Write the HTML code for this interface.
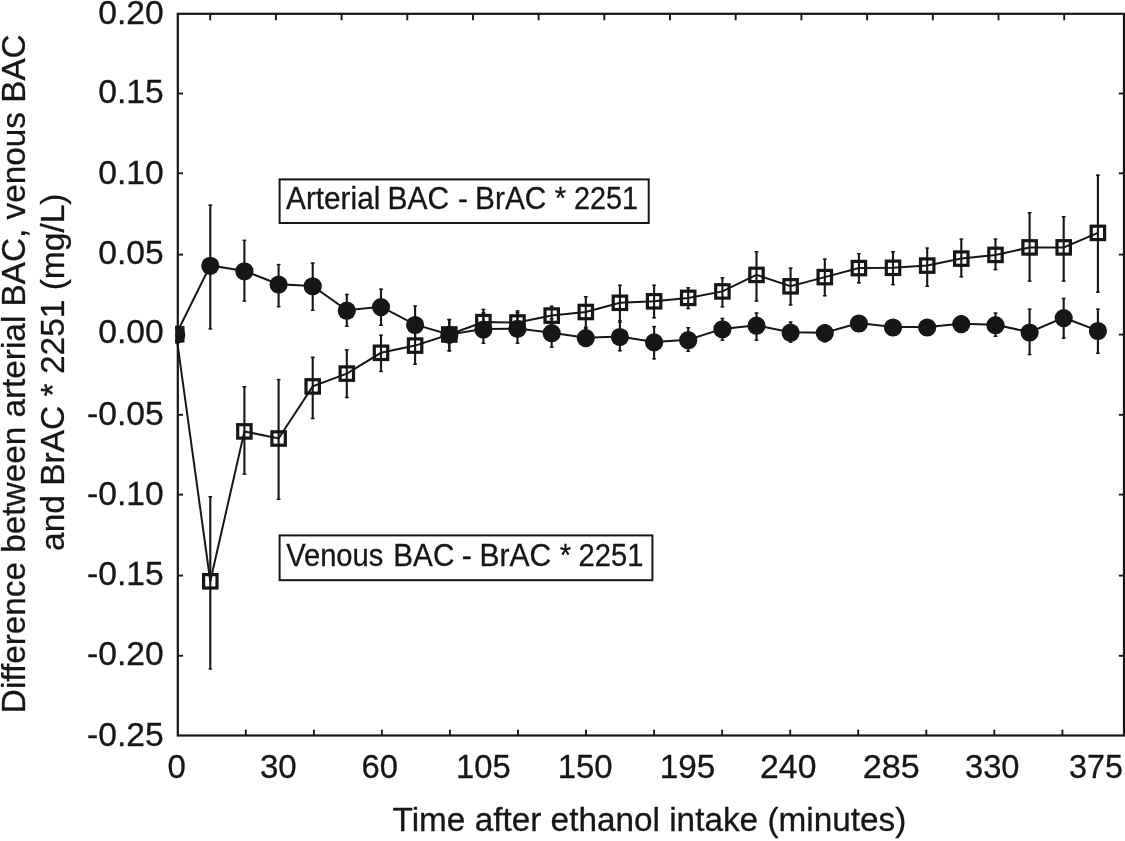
<!DOCTYPE html>
<html lang="en"><head><meta charset="utf-8"><title>BAC - BrAC difference chart</title>
<style>
html,body{margin:0;padding:0;background:#fff;}
body{width:1125px;height:841px;overflow:hidden;}
svg{display:block;}
text{font-family:"Liberation Sans",Arial,Helvetica,sans-serif;fill:#161616;stroke:#161616;stroke-width:0.3px;}
</style></head><body>
<svg width="1125" height="841" viewBox="0 0 1125 841">
<rect width="1125" height="841" fill="#ffffff"/>
<defs><clipPath id="plot"><rect x="175.2" y="13.8" width="951.2" height="721.7"/></clipPath></defs>

<g>
<g fill="none" stroke="#161616" stroke-width="2.2">
<rect x="177.8" y="13.8" width="946.2" height="721.7"/>
</g>
<g stroke="#161616" stroke-width="1.9">
<line x1="177.8" y1="93.5" x2="183.0" y2="93.5"/>
<line x1="1124.0" y1="93.5" x2="1118.8" y2="93.5"/>
<line x1="177.8" y1="173.3" x2="183.0" y2="173.3"/>
<line x1="1124.0" y1="173.3" x2="1118.8" y2="173.3"/>
<line x1="177.8" y1="254.6" x2="183.0" y2="254.6"/>
<line x1="1124.0" y1="254.6" x2="1118.8" y2="254.6"/>
<line x1="177.8" y1="334.6" x2="183.0" y2="334.6"/>
<line x1="1124.0" y1="334.6" x2="1118.8" y2="334.6"/>
<line x1="177.8" y1="414.8" x2="183.0" y2="414.8"/>
<line x1="1124.0" y1="414.8" x2="1118.8" y2="414.8"/>
<line x1="177.8" y1="494.6" x2="183.0" y2="494.6"/>
<line x1="1124.0" y1="494.6" x2="1118.8" y2="494.6"/>
<line x1="177.8" y1="575.6" x2="183.0" y2="575.6"/>
<line x1="1124.0" y1="575.6" x2="1118.8" y2="575.6"/>
<line x1="177.8" y1="655.8" x2="183.0" y2="655.8"/>
<line x1="1124.0" y1="655.8" x2="1118.8" y2="655.8"/>
<line x1="245.8" y1="735.5" x2="245.8" y2="729.7"/>
<line x1="313.9" y1="735.5" x2="313.9" y2="729.7"/>
<line x1="381.9" y1="735.5" x2="381.9" y2="729.7"/>
<line x1="449.9" y1="735.5" x2="449.9" y2="729.7"/>
<line x1="518.0" y1="735.5" x2="518.0" y2="729.7"/>
<line x1="586.0" y1="735.5" x2="586.0" y2="729.7"/>
<line x1="654.1" y1="735.5" x2="654.1" y2="729.7"/>
<line x1="722.1" y1="735.5" x2="722.1" y2="729.7"/>
<line x1="790.2" y1="735.5" x2="790.2" y2="729.7"/>
<line x1="858.2" y1="735.5" x2="858.2" y2="729.7"/>
<line x1="926.3" y1="735.5" x2="926.3" y2="729.7"/>
<line x1="994.3" y1="735.5" x2="994.3" y2="729.7"/>
<line x1="1062.4" y1="735.5" x2="1062.4" y2="729.7"/>
<line x1="210.2" y1="13.8" x2="210.2" y2="20.3"/>
<line x1="275.9" y1="13.8" x2="275.9" y2="20.3"/>
<line x1="341.6" y1="13.8" x2="341.6" y2="20.3"/>
<line x1="407.3" y1="13.8" x2="407.3" y2="20.3"/>
<line x1="473.0" y1="13.8" x2="473.0" y2="20.3"/>
<line x1="538.6" y1="13.8" x2="538.6" y2="20.3"/>
<line x1="604.3" y1="13.8" x2="604.3" y2="20.3"/>
<line x1="670.0" y1="13.8" x2="670.0" y2="20.3"/>
<line x1="735.7" y1="13.8" x2="735.7" y2="20.3"/>
<line x1="801.4" y1="13.8" x2="801.4" y2="20.3"/>
<line x1="867.1" y1="13.8" x2="867.1" y2="20.3"/>
<line x1="932.8" y1="13.8" x2="932.8" y2="20.3"/>
<line x1="998.5" y1="13.8" x2="998.5" y2="20.3"/>
<line x1="1064.2" y1="13.8" x2="1064.2" y2="20.3"/>
</g>
<g clip-path="url(#plot)">
<polyline fill="none" stroke="#161616" stroke-width="2" points="176.2,334.3 210.3,581.3 244.4,431.4 278.6,438.5 312.7,386.4 346.8,373.6 381.0,352.8 415.1,345.6 449.3,334.5 483.4,322.1 517.5,322.5 551.7,315.6 585.8,312.0 619.9,302.8 654.1,301.3 688.2,297.9 722.4,291.4 756.5,274.9 790.6,286.3 824.8,277.1 858.9,268.1 893.0,267.8 927.2,265.6 961.3,258.6 995.5,254.9 1029.6,247.4 1063.7,247.4 1097.9,232.9"/>
<polyline fill="none" stroke="#161616" stroke-width="2" points="176.2,334.3 210.3,265.4 244.4,270.9 278.6,284.2 312.7,285.9 346.8,310.3 381.0,306.7 415.1,324.6 449.3,334.5 483.4,329.1 517.5,328.5 551.7,332.8 585.8,337.7 619.9,336.6 654.1,342.0 688.2,339.8 722.4,328.9 756.5,325.3 790.6,332.3 824.8,332.7 858.9,323.1 893.0,327.1 927.2,327.1 961.3,323.7 995.5,324.8 1029.6,332.1 1063.7,317.7 1097.9,330.6"/>
<rect x="169.5" y="327.6" width="13.4" height="13.4" fill="none" stroke="#161616" stroke-width="3.2"/>
<rect x="203.6" y="574.6" width="13.4" height="13.4" fill="none" stroke="#161616" stroke-width="3.2"/>
<rect x="237.7" y="424.7" width="13.4" height="13.4" fill="none" stroke="#161616" stroke-width="3.2"/>
<rect x="271.9" y="431.8" width="13.4" height="13.4" fill="none" stroke="#161616" stroke-width="3.2"/>
<rect x="306.0" y="379.7" width="13.4" height="13.4" fill="none" stroke="#161616" stroke-width="3.2"/>
<rect x="340.1" y="366.9" width="13.4" height="13.4" fill="none" stroke="#161616" stroke-width="3.2"/>
<rect x="374.3" y="346.1" width="13.4" height="13.4" fill="none" stroke="#161616" stroke-width="3.2"/>
<rect x="408.4" y="338.9" width="13.4" height="13.4" fill="none" stroke="#161616" stroke-width="3.2"/>
<rect x="442.6" y="327.8" width="13.4" height="13.4" fill="none" stroke="#161616" stroke-width="3.2"/>
<rect x="476.7" y="315.4" width="13.4" height="13.4" fill="none" stroke="#161616" stroke-width="3.2"/>
<rect x="510.8" y="315.8" width="13.4" height="13.4" fill="none" stroke="#161616" stroke-width="3.2"/>
<rect x="545.0" y="308.9" width="13.4" height="13.4" fill="none" stroke="#161616" stroke-width="3.2"/>
<rect x="579.1" y="305.3" width="13.4" height="13.4" fill="none" stroke="#161616" stroke-width="3.2"/>
<rect x="613.2" y="296.1" width="13.4" height="13.4" fill="none" stroke="#161616" stroke-width="3.2"/>
<rect x="647.4" y="294.6" width="13.4" height="13.4" fill="none" stroke="#161616" stroke-width="3.2"/>
<rect x="681.5" y="291.2" width="13.4" height="13.4" fill="none" stroke="#161616" stroke-width="3.2"/>
<rect x="715.7" y="284.7" width="13.4" height="13.4" fill="none" stroke="#161616" stroke-width="3.2"/>
<rect x="749.8" y="268.2" width="13.4" height="13.4" fill="none" stroke="#161616" stroke-width="3.2"/>
<rect x="783.9" y="279.6" width="13.4" height="13.4" fill="none" stroke="#161616" stroke-width="3.2"/>
<rect x="818.1" y="270.4" width="13.4" height="13.4" fill="none" stroke="#161616" stroke-width="3.2"/>
<rect x="852.2" y="261.4" width="13.4" height="13.4" fill="none" stroke="#161616" stroke-width="3.2"/>
<rect x="886.3" y="261.1" width="13.4" height="13.4" fill="none" stroke="#161616" stroke-width="3.2"/>
<rect x="920.5" y="258.9" width="13.4" height="13.4" fill="none" stroke="#161616" stroke-width="3.2"/>
<rect x="954.6" y="251.9" width="13.4" height="13.4" fill="none" stroke="#161616" stroke-width="3.2"/>
<rect x="988.8" y="248.2" width="13.4" height="13.4" fill="none" stroke="#161616" stroke-width="3.2"/>
<rect x="1022.9" y="240.7" width="13.4" height="13.4" fill="none" stroke="#161616" stroke-width="3.2"/>
<rect x="1057.0" y="240.7" width="13.4" height="13.4" fill="none" stroke="#161616" stroke-width="3.2"/>
<rect x="1091.2" y="226.2" width="13.4" height="13.4" fill="none" stroke="#161616" stroke-width="3.2"/>
<circle cx="176.2" cy="334.7" r="9.1" fill="#161616"/>
<circle cx="210.3" cy="265.8" r="9.1" fill="#161616"/>
<circle cx="244.4" cy="271.3" r="9.1" fill="#161616"/>
<circle cx="278.6" cy="284.6" r="9.1" fill="#161616"/>
<circle cx="312.7" cy="286.3" r="9.1" fill="#161616"/>
<circle cx="346.8" cy="310.7" r="9.1" fill="#161616"/>
<circle cx="381.0" cy="307.1" r="9.1" fill="#161616"/>
<circle cx="415.1" cy="325.0" r="9.1" fill="#161616"/>
<circle cx="449.3" cy="334.9" r="9.1" fill="#161616"/>
<circle cx="483.4" cy="329.5" r="9.1" fill="#161616"/>
<circle cx="517.5" cy="328.9" r="9.1" fill="#161616"/>
<circle cx="551.7" cy="333.2" r="9.1" fill="#161616"/>
<circle cx="585.8" cy="338.1" r="9.1" fill="#161616"/>
<circle cx="619.9" cy="337.0" r="9.1" fill="#161616"/>
<circle cx="654.1" cy="342.4" r="9.1" fill="#161616"/>
<circle cx="688.2" cy="340.2" r="9.1" fill="#161616"/>
<circle cx="722.4" cy="329.3" r="9.1" fill="#161616"/>
<circle cx="756.5" cy="325.7" r="9.1" fill="#161616"/>
<circle cx="790.6" cy="332.7" r="9.1" fill="#161616"/>
<circle cx="824.8" cy="333.1" r="9.1" fill="#161616"/>
<circle cx="858.9" cy="323.5" r="9.1" fill="#161616"/>
<circle cx="893.0" cy="327.5" r="9.1" fill="#161616"/>
<circle cx="927.2" cy="327.5" r="9.1" fill="#161616"/>
<circle cx="961.3" cy="324.1" r="9.1" fill="#161616"/>
<circle cx="995.5" cy="325.2" r="9.1" fill="#161616"/>
<circle cx="1029.6" cy="332.5" r="9.1" fill="#161616"/>
<circle cx="1063.7" cy="318.1" r="9.1" fill="#161616"/>
<circle cx="1097.9" cy="331.0" r="9.1" fill="#161616"/>
<g stroke="#161616" stroke-width="2.1">
<line x1="210.3" y1="496.1" x2="210.3" y2="669.6"/>
<line x1="208.4" y1="496.8" x2="212.2" y2="496.8" stroke-width="1.4"/>
<line x1="208.4" y1="668.9" x2="212.2" y2="668.9" stroke-width="1.4"/>
<line x1="244.4" y1="386.0" x2="244.4" y2="474.8"/>
<line x1="242.5" y1="386.7" x2="246.3" y2="386.7" stroke-width="1.4"/>
<line x1="242.5" y1="474.1" x2="246.3" y2="474.1" stroke-width="1.4"/>
<line x1="278.6" y1="378.9" x2="278.6" y2="500.0"/>
<line x1="276.7" y1="379.6" x2="280.5" y2="379.6" stroke-width="1.4"/>
<line x1="276.7" y1="499.3" x2="280.5" y2="499.3" stroke-width="1.4"/>
<line x1="312.7" y1="356.7" x2="312.7" y2="419.2"/>
<line x1="310.8" y1="357.4" x2="314.6" y2="357.4" stroke-width="1.4"/>
<line x1="310.8" y1="418.5" x2="314.6" y2="418.5" stroke-width="1.4"/>
<line x1="346.8" y1="349.2" x2="346.8" y2="398.2"/>
<line x1="344.9" y1="349.9" x2="348.7" y2="349.9" stroke-width="1.4"/>
<line x1="344.9" y1="397.5" x2="348.7" y2="397.5" stroke-width="1.4"/>
<line x1="381.0" y1="334.6" x2="381.0" y2="372.1"/>
<line x1="379.1" y1="335.3" x2="382.9" y2="335.3" stroke-width="1.4"/>
<line x1="379.1" y1="371.4" x2="382.9" y2="371.4" stroke-width="1.4"/>
<line x1="415.1" y1="328.0" x2="415.1" y2="364.9"/>
<line x1="413.2" y1="328.7" x2="417.0" y2="328.7" stroke-width="1.4"/>
<line x1="413.2" y1="364.2" x2="417.0" y2="364.2" stroke-width="1.4"/>
<line x1="449.3" y1="318.9" x2="449.3" y2="351.4"/>
<line x1="447.4" y1="319.6" x2="451.2" y2="319.6" stroke-width="1.4"/>
<line x1="447.4" y1="350.7" x2="451.2" y2="350.7" stroke-width="1.4"/>
<line x1="483.4" y1="308.8" x2="483.4" y2="336.0"/>
<line x1="481.5" y1="309.5" x2="485.3" y2="309.5" stroke-width="1.4"/>
<line x1="481.5" y1="335.3" x2="485.3" y2="335.3" stroke-width="1.4"/>
<line x1="517.5" y1="310.3" x2="517.5" y2="336.0"/>
<line x1="515.6" y1="311.0" x2="519.4" y2="311.0" stroke-width="1.4"/>
<line x1="515.6" y1="335.3" x2="519.4" y2="335.3" stroke-width="1.4"/>
<line x1="551.7" y1="305.6" x2="551.7" y2="326.0"/>
<line x1="549.8" y1="306.3" x2="553.6" y2="306.3" stroke-width="1.4"/>
<line x1="549.8" y1="325.3" x2="553.6" y2="325.3" stroke-width="1.4"/>
<line x1="585.8" y1="296.0" x2="585.8" y2="328.0"/>
<line x1="583.9" y1="296.7" x2="587.7" y2="296.7" stroke-width="1.4"/>
<line x1="583.9" y1="327.3" x2="587.7" y2="327.3" stroke-width="1.4"/>
<line x1="619.9" y1="284.6" x2="619.9" y2="321.5"/>
<line x1="618.0" y1="285.3" x2="621.8" y2="285.3" stroke-width="1.4"/>
<line x1="618.0" y1="320.8" x2="621.8" y2="320.8" stroke-width="1.4"/>
<line x1="654.1" y1="284.6" x2="654.1" y2="318.4"/>
<line x1="652.2" y1="285.3" x2="656.0" y2="285.3" stroke-width="1.4"/>
<line x1="652.2" y1="317.7" x2="656.0" y2="317.7" stroke-width="1.4"/>
<line x1="688.2" y1="287.1" x2="688.2" y2="309.2"/>
<line x1="686.3" y1="287.8" x2="690.1" y2="287.8" stroke-width="1.4"/>
<line x1="686.3" y1="308.5" x2="690.1" y2="308.5" stroke-width="1.4"/>
<line x1="722.4" y1="277.1" x2="722.4" y2="307.5"/>
<line x1="720.5" y1="277.8" x2="724.3" y2="277.8" stroke-width="1.4"/>
<line x1="720.5" y1="306.8" x2="724.3" y2="306.8" stroke-width="1.4"/>
<line x1="756.5" y1="251.0" x2="756.5" y2="301.7"/>
<line x1="754.6" y1="251.7" x2="758.4" y2="251.7" stroke-width="1.4"/>
<line x1="754.6" y1="301.0" x2="758.4" y2="301.0" stroke-width="1.4"/>
<line x1="790.6" y1="267.5" x2="790.6" y2="305.6"/>
<line x1="788.7" y1="268.2" x2="792.5" y2="268.2" stroke-width="1.4"/>
<line x1="788.7" y1="304.9" x2="792.5" y2="304.9" stroke-width="1.4"/>
<line x1="824.8" y1="258.5" x2="824.8" y2="296.4"/>
<line x1="822.9" y1="259.2" x2="826.7" y2="259.2" stroke-width="1.4"/>
<line x1="822.9" y1="295.7" x2="826.7" y2="295.7" stroke-width="1.4"/>
<line x1="858.9" y1="252.9" x2="858.9" y2="283.5"/>
<line x1="857.0" y1="253.6" x2="860.8" y2="253.6" stroke-width="1.4"/>
<line x1="857.0" y1="282.8" x2="860.8" y2="282.8" stroke-width="1.4"/>
<line x1="893.0" y1="251.1" x2="893.0" y2="285.3"/>
<line x1="891.1" y1="251.8" x2="894.9" y2="251.8" stroke-width="1.4"/>
<line x1="891.1" y1="284.6" x2="894.9" y2="284.6" stroke-width="1.4"/>
<line x1="927.2" y1="247.4" x2="927.2" y2="287.0"/>
<line x1="925.3" y1="248.1" x2="929.1" y2="248.1" stroke-width="1.4"/>
<line x1="925.3" y1="286.3" x2="929.1" y2="286.3" stroke-width="1.4"/>
<line x1="961.3" y1="238.4" x2="961.3" y2="277.4"/>
<line x1="959.4" y1="239.1" x2="963.2" y2="239.1" stroke-width="1.4"/>
<line x1="959.4" y1="276.7" x2="963.2" y2="276.7" stroke-width="1.4"/>
<line x1="995.5" y1="238.4" x2="995.5" y2="270.3"/>
<line x1="993.6" y1="239.1" x2="997.4" y2="239.1" stroke-width="1.4"/>
<line x1="993.6" y1="269.6" x2="997.4" y2="269.6" stroke-width="1.4"/>
<line x1="1029.6" y1="212.1" x2="1029.6" y2="281.7"/>
<line x1="1027.7" y1="212.8" x2="1031.5" y2="212.8" stroke-width="1.4"/>
<line x1="1027.7" y1="281.0" x2="1031.5" y2="281.0" stroke-width="1.4"/>
<line x1="1063.7" y1="216.0" x2="1063.7" y2="281.7"/>
<line x1="1061.8" y1="216.7" x2="1065.6" y2="216.7" stroke-width="1.4"/>
<line x1="1061.8" y1="281.0" x2="1065.6" y2="281.0" stroke-width="1.4"/>
<line x1="1097.9" y1="174.6" x2="1097.9" y2="292.8"/>
<line x1="1096.0" y1="175.3" x2="1099.8" y2="175.3" stroke-width="1.4"/>
<line x1="1096.0" y1="292.1" x2="1099.8" y2="292.1" stroke-width="1.4"/>
<line x1="210.3" y1="204.6" x2="210.3" y2="329.6"/>
<line x1="208.4" y1="205.3" x2="212.2" y2="205.3" stroke-width="1.4"/>
<line x1="208.4" y1="328.9" x2="212.2" y2="328.9" stroke-width="1.4"/>
<line x1="244.4" y1="239.7" x2="244.4" y2="301.8"/>
<line x1="242.5" y1="240.4" x2="246.3" y2="240.4" stroke-width="1.4"/>
<line x1="242.5" y1="301.1" x2="246.3" y2="301.1" stroke-width="1.4"/>
<line x1="278.6" y1="263.9" x2="278.6" y2="307.3"/>
<line x1="276.7" y1="264.6" x2="280.5" y2="264.6" stroke-width="1.4"/>
<line x1="276.7" y1="306.6" x2="280.5" y2="306.6" stroke-width="1.4"/>
<line x1="312.7" y1="262.4" x2="312.7" y2="311.0"/>
<line x1="310.8" y1="263.1" x2="314.6" y2="263.1" stroke-width="1.4"/>
<line x1="310.8" y1="310.3" x2="314.6" y2="310.3" stroke-width="1.4"/>
<line x1="346.8" y1="293.8" x2="346.8" y2="327.0"/>
<line x1="344.9" y1="294.5" x2="348.7" y2="294.5" stroke-width="1.4"/>
<line x1="344.9" y1="326.3" x2="348.7" y2="326.3" stroke-width="1.4"/>
<line x1="381.0" y1="288.5" x2="381.0" y2="326.0"/>
<line x1="379.1" y1="289.2" x2="382.9" y2="289.2" stroke-width="1.4"/>
<line x1="379.1" y1="325.3" x2="382.9" y2="325.3" stroke-width="1.4"/>
<line x1="415.1" y1="305.4" x2="415.1" y2="340.0"/>
<line x1="413.2" y1="306.1" x2="417.0" y2="306.1" stroke-width="1.4"/>
<line x1="413.2" y1="339.3" x2="417.0" y2="339.3" stroke-width="1.4"/>
<line x1="449.3" y1="318.9" x2="449.3" y2="351.4"/>
<line x1="447.4" y1="319.6" x2="451.2" y2="319.6" stroke-width="1.4"/>
<line x1="447.4" y1="350.7" x2="451.2" y2="350.7" stroke-width="1.4"/>
<line x1="483.4" y1="312.0" x2="483.4" y2="343.9"/>
<line x1="481.5" y1="312.7" x2="485.3" y2="312.7" stroke-width="1.4"/>
<line x1="481.5" y1="343.2" x2="485.3" y2="343.2" stroke-width="1.4"/>
<line x1="517.5" y1="312.0" x2="517.5" y2="343.9"/>
<line x1="515.6" y1="312.7" x2="519.4" y2="312.7" stroke-width="1.4"/>
<line x1="515.6" y1="343.2" x2="519.4" y2="343.2" stroke-width="1.4"/>
<line x1="551.7" y1="318.0" x2="551.7" y2="347.8"/>
<line x1="549.8" y1="318.7" x2="553.6" y2="318.7" stroke-width="1.4"/>
<line x1="549.8" y1="347.1" x2="553.6" y2="347.1" stroke-width="1.4"/>
<line x1="585.8" y1="328.0" x2="585.8" y2="347.0"/>
<line x1="583.9" y1="328.7" x2="587.7" y2="328.7" stroke-width="1.4"/>
<line x1="583.9" y1="346.3" x2="587.7" y2="346.3" stroke-width="1.4"/>
<line x1="619.9" y1="321.5" x2="619.9" y2="351.4"/>
<line x1="618.0" y1="322.2" x2="621.8" y2="322.2" stroke-width="1.4"/>
<line x1="618.0" y1="350.7" x2="621.8" y2="350.7" stroke-width="1.4"/>
<line x1="654.1" y1="325.9" x2="654.1" y2="359.5"/>
<line x1="652.2" y1="326.6" x2="656.0" y2="326.6" stroke-width="1.4"/>
<line x1="652.2" y1="358.8" x2="656.0" y2="358.8" stroke-width="1.4"/>
<line x1="688.2" y1="327.0" x2="688.2" y2="352.0"/>
<line x1="686.3" y1="327.7" x2="690.1" y2="327.7" stroke-width="1.4"/>
<line x1="686.3" y1="351.3" x2="690.1" y2="351.3" stroke-width="1.4"/>
<line x1="722.4" y1="317.8" x2="722.4" y2="340.9"/>
<line x1="720.5" y1="318.5" x2="724.3" y2="318.5" stroke-width="1.4"/>
<line x1="720.5" y1="340.2" x2="724.3" y2="340.2" stroke-width="1.4"/>
<line x1="756.5" y1="312.4" x2="756.5" y2="340.9"/>
<line x1="754.6" y1="313.1" x2="758.4" y2="313.1" stroke-width="1.4"/>
<line x1="754.6" y1="340.2" x2="758.4" y2="340.2" stroke-width="1.4"/>
<line x1="790.6" y1="321.4" x2="790.6" y2="342.8"/>
<line x1="788.7" y1="322.1" x2="792.5" y2="322.1" stroke-width="1.4"/>
<line x1="788.7" y1="342.1" x2="792.5" y2="342.1" stroke-width="1.4"/>
<line x1="824.8" y1="324.2" x2="824.8" y2="342.4"/>
<line x1="822.9" y1="324.9" x2="826.7" y2="324.9" stroke-width="1.4"/>
<line x1="822.9" y1="341.7" x2="826.7" y2="341.7" stroke-width="1.4"/>
<line x1="858.9" y1="316.0" x2="858.9" y2="330.0"/>
<line x1="857.0" y1="316.7" x2="860.8" y2="316.7" stroke-width="1.4"/>
<line x1="857.0" y1="329.3" x2="860.8" y2="329.3" stroke-width="1.4"/>
<line x1="893.0" y1="320.0" x2="893.0" y2="334.0"/>
<line x1="891.1" y1="320.7" x2="894.9" y2="320.7" stroke-width="1.4"/>
<line x1="891.1" y1="333.3" x2="894.9" y2="333.3" stroke-width="1.4"/>
<line x1="927.2" y1="320.0" x2="927.2" y2="334.0"/>
<line x1="925.3" y1="320.7" x2="929.1" y2="320.7" stroke-width="1.4"/>
<line x1="925.3" y1="333.3" x2="929.1" y2="333.3" stroke-width="1.4"/>
<line x1="961.3" y1="315.0" x2="961.3" y2="332.5"/>
<line x1="959.4" y1="315.7" x2="963.2" y2="315.7" stroke-width="1.4"/>
<line x1="959.4" y1="331.8" x2="963.2" y2="331.8" stroke-width="1.4"/>
<line x1="995.5" y1="312.4" x2="995.5" y2="337.0"/>
<line x1="993.6" y1="313.1" x2="997.4" y2="313.1" stroke-width="1.4"/>
<line x1="993.6" y1="336.3" x2="997.4" y2="336.3" stroke-width="1.4"/>
<line x1="1029.6" y1="308.5" x2="1029.6" y2="355.2"/>
<line x1="1027.7" y1="309.2" x2="1031.5" y2="309.2" stroke-width="1.4"/>
<line x1="1027.7" y1="354.5" x2="1031.5" y2="354.5" stroke-width="1.4"/>
<line x1="1063.7" y1="297.8" x2="1063.7" y2="338.9"/>
<line x1="1061.8" y1="298.5" x2="1065.6" y2="298.5" stroke-width="1.4"/>
<line x1="1061.8" y1="338.2" x2="1065.6" y2="338.2" stroke-width="1.4"/>
<line x1="1097.9" y1="308.5" x2="1097.9" y2="353.9"/>
<line x1="1096.0" y1="309.2" x2="1099.8" y2="309.2" stroke-width="1.4"/>
<line x1="1096.0" y1="353.2" x2="1099.8" y2="353.2" stroke-width="1.4"/>
</g>
</g>
<rect x="279.6" y="179.4" width="369.1" height="43.6" fill="#fff" stroke="#161616" stroke-width="2"/>
<text y="208.9" font-size="30.5"><tspan x="286.05" textLength="94.26" lengthAdjust="spacingAndGlyphs">Arterial</tspan> <tspan x="387.51" textLength="61.53" lengthAdjust="spacingAndGlyphs">BAC</tspan> <tspan x="458.06" textLength="9.92" lengthAdjust="spacingAndGlyphs">-</tspan> <tspan x="475.11" textLength="71.26" lengthAdjust="spacingAndGlyphs">BrAC</tspan> <tspan x="554.86" textLength="11.40" lengthAdjust="spacingAndGlyphs">*</tspan> <tspan x="573.96" textLength="64.07" lengthAdjust="spacingAndGlyphs">2251</tspan></text>
<rect x="279.6" y="535.4" width="372.8" height="44.8" fill="#fff" stroke="#161616" stroke-width="2"/>
<text y="566.0" font-size="30.5"><tspan x="286.15" textLength="97.21" lengthAdjust="spacingAndGlyphs">Venous</tspan> <tspan x="393.33" textLength="60.99" lengthAdjust="spacingAndGlyphs">BAC</tspan> <tspan x="461.64" textLength="10.06" lengthAdjust="spacingAndGlyphs">-</tspan> <tspan x="479.50" textLength="71.78" lengthAdjust="spacingAndGlyphs">BrAC</tspan> <tspan x="559.76" textLength="11.40" lengthAdjust="spacingAndGlyphs">*</tspan> <tspan x="578.54" textLength="64.80" lengthAdjust="spacingAndGlyphs">2251</tspan></text>
<text x="98.26" y="24.05" font-size="33.40" textLength="65.53" lengthAdjust="spacingAndGlyphs">0.20</text>
<text x="98.26" y="103.40" font-size="33.40" textLength="65.53" lengthAdjust="spacingAndGlyphs">0.15</text>
<text x="98.26" y="183.80" font-size="33.40" textLength="65.53" lengthAdjust="spacingAndGlyphs">0.10</text>
<text x="98.26" y="263.70" font-size="33.40" textLength="65.53" lengthAdjust="spacingAndGlyphs">0.05</text>
<text x="98.26" y="343.15" font-size="33.40" textLength="65.53" lengthAdjust="spacingAndGlyphs">0.00</text>
<text x="86.99" y="424.85" font-size="33.40" textLength="76.74" lengthAdjust="spacingAndGlyphs">-0.05</text>
<text x="86.99" y="504.65" font-size="33.40" textLength="76.74" lengthAdjust="spacingAndGlyphs">-0.10</text>
<text x="86.99" y="584.75" font-size="33.40" textLength="76.74" lengthAdjust="spacingAndGlyphs">-0.15</text>
<text x="86.99" y="664.60" font-size="33.40" textLength="76.74" lengthAdjust="spacingAndGlyphs">-0.20</text>
<text x="86.99" y="746.20" font-size="33.40" textLength="76.74" lengthAdjust="spacingAndGlyphs">-0.25</text>
<text x="167.48" y="777.70" font-size="33.40" textLength="18.38" lengthAdjust="spacingAndGlyphs">0</text>
<text x="259.98" y="777.70" font-size="33.40" textLength="36.76" lengthAdjust="spacingAndGlyphs">30</text>
<text x="361.56" y="777.70" font-size="33.40" textLength="36.46" lengthAdjust="spacingAndGlyphs">60</text>
<text x="456.04" y="777.70" font-size="33.40" textLength="54.68" lengthAdjust="spacingAndGlyphs">105</text>
<text x="557.73" y="777.70" font-size="33.40" textLength="54.94" lengthAdjust="spacingAndGlyphs">150</text>
<text x="659.70" y="777.70" font-size="33.40" textLength="55.55" lengthAdjust="spacingAndGlyphs">195</text>
<text x="760.11" y="777.70" font-size="33.40" textLength="56.29" lengthAdjust="spacingAndGlyphs">240</text>
<text x="862.79" y="777.70" font-size="33.40" textLength="56.99" lengthAdjust="spacingAndGlyphs">285</text>
<text x="964.99" y="777.70" font-size="33.40" textLength="54.57" lengthAdjust="spacingAndGlyphs">330</text>
<text x="1069.01" y="777.70" font-size="33.40" textLength="53.90" lengthAdjust="spacingAndGlyphs">375</text>
<text x="392.57" y="831.20" font-size="33.20" textLength="513.77" lengthAdjust="spacingAndGlyphs">Time after ethanol intake (minutes)</text>
<text transform="translate(25.10,713.16) rotate(-90)" font-size="33.60" textLength="678.83" lengthAdjust="spacingAndGlyphs">Difference between arterial BAC, venous BAC</text>
<text transform="translate(63.60,550.91) rotate(-90)" font-size="33.40" textLength="357.38" lengthAdjust="spacingAndGlyphs">and BrAC * 2251 (mg/L)</text>
</g>
</svg></body></html>
